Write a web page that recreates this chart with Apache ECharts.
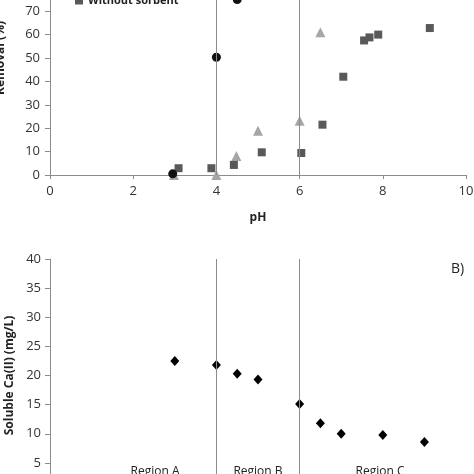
<!DOCTYPE html>
<html>
<head>
<meta charset="utf-8">
<script src="https://cdn.jsdelivr.net/npm/echarts@6/dist/echarts.min.js"></script>
<style>
  html, body { margin: 0; padding: 0; background: #fff; overflow: hidden; }
  #wrap { position: relative; width: 474px; height: 474px; overflow: hidden; }
  /* the figure is cropped: draw it taller and shift up */
  #chart { position: absolute; left: 0; top: -70px; width: 474px; height: 600px; }
</style>
</head>
<body>
<div id="wrap"><div id="chart"></div></div>
<script>
// top panel: removal (%) vs pH
var circlePts = [[2.95, 0.5], [4.0, 50.3], [4.5, 75]];
var trianglePts = [[2.98, 0], [4.0, 0], [4.48, 8.1], [5.0, 18.9], [6.0, 23.2], [6.5, 61]];
var squarePts = [[3.09, 2.9], [3.88, 2.9], [4.42, 4.3], [5.09, 9.7], [6.04, 9.4], [6.55, 21.5],
                 [7.05, 42], [7.55, 57.5], [7.68, 58.8], [7.89, 60], [9.13, 62.8]];
// bottom panel: soluble Ca(II) vs pH
var diamondPts = [[3.0, 22.5], [4.0, 21.8], [4.5, 20.3], [5.0, 19.3], [6.0, 15.1],
                  [6.5, 11.8], [7.0, 10.0], [8.0, 9.8], [9.0, 8.6]];
// region boundaries (pH)
var boundaries = [4, 6];
var regionNames = ['Region A', 'Region B', 'Region C'];

var chart = echarts.init(document.getElementById('chart'));

var axisGray = '#8c8c8c';
var txt = '#333';
var font = 'Open Sans';
var dy = 70; // vertical shift of the drawing

var vLines = {
    silent: true,
    symbol: 'none',
    label: { show: false },
    lineStyle: { color: axisGray, width: 1, type: 'solid' },
    data: boundaries.map(function (b) { return { xAxis: b }; })
};

var option = {
    animation: false,
    textStyle: { fontFamily: font },
    legend: {
        data: ['Without sorbent'],
        left: 70,
        top: dy - 10,
        itemWidth: 8,
        itemHeight: 8,
        itemGap: 6,
        textStyle: { color: '#222', fontSize: 11, fontWeight: 'bold', fontFamily: font }
    },
    grid: [
        { left: 50, right: 8, top: dy - 59, bottom: 600 - 175 - dy, containLabel: false, outerBoundsMode: 'none' },
        { left: 50, right: 8, top: dy + 259, bottom: 600 - 492 - dy, containLabel: false, outerBoundsMode: 'none' }
    ],
    xAxis: [{
        gridIndex: 0,
        type: 'value',
        min: 0, max: 10, interval: 2,
        name: 'pH',
        nameLocation: 'middle',
        nameGap: 37,
        nameTextStyle: { color: '#222', fontSize: 12, fontWeight: 'bold' },
        axisLine: { lineStyle: { color: axisGray } },
        axisTick: { length: 4, lineStyle: { color: axisGray } },
        axisLabel: { color: txt, fontSize: 13, margin: 10 },
        splitLine: { show: false }
    }, {
        gridIndex: 1,
        type: 'value',
        min: 0, max: 10, interval: 2,
        axisLine: { lineStyle: { color: axisGray } },
        axisTick: { show: false },
        axisLabel: { show: false },
        splitLine: { show: false }
    }],
    yAxis: [{
        gridIndex: 0,
        type: 'value',
        min: 0, max: 100, interval: 10,
        name: 'Removal (%)',
        nameLocation: 'middle',
        nameGap: 33,
        nameTextStyle: { color: '#222', fontSize: 12, fontWeight: 'bold' },
        axisLine: { show: true, lineStyle: { color: axisGray } },
        axisTick: { show: true, length: 5, lineStyle: { color: axisGray } },
        axisLabel: { color: txt, fontSize: 13, margin: 10 },
        splitLine: { show: false }
    }, {
        gridIndex: 1,
        type: 'value',
        min: 0, max: 40, interval: 5,
        name: 'Soluble Ca(II) (mg/L)',
        nameLocation: 'middle',
        nameGap: 33,
        nameTextStyle: { color: '#222', fontSize: 12, fontWeight: 'bold' },
        axisLine: { show: true, lineStyle: { color: axisGray } },
        axisTick: { show: true, length: 5, lineStyle: { color: axisGray } },
        axisLabel: { color: txt, fontSize: 13, margin: 9 },
        splitLine: { show: false }
    }],
    graphic: [
        { type: 'text', left: 451, top: dy + 262, style: { text: 'B)', fill: '#222', font: '14px "Open Sans"' } },
        { type: 'text', x: 155, y: dy + 466, style: { text: regionNames[0], fill: '#222', font: '12px "Open Sans"', textAlign: 'center' } },
        { type: 'text', x: 258, y: dy + 466, style: { text: regionNames[1], fill: '#222', font: '12px "Open Sans"', textAlign: 'center' } },
        { type: 'text', x: 380, y: dy + 466, style: { text: regionNames[2], fill: '#222', font: '12px "Open Sans"', textAlign: 'center' } }
    ],
    series: [{
        name: 'Without sorbent',
        type: 'scatter',
        xAxisIndex: 0, yAxisIndex: 0,
        symbol: 'rect',
        symbolSize: 8,
        itemStyle: { color: '#595959', opacity: 1 },
        data: squarePts,
        markLine: vLines,
        z: 3
    }, {
        name: 'Series 2',
        type: 'scatter',
        xAxisIndex: 0, yAxisIndex: 0,
        symbol: 'triangle',
        symbolSize: 10,
        itemStyle: { color: '#a6a6a6', opacity: 1 },
        data: trianglePts,
        z: 2
    }, {
        name: 'Series 1',
        type: 'scatter',
        xAxisIndex: 0, yAxisIndex: 0,
        symbol: 'circle',
        symbolSize: 9,
        itemStyle: { color: '#111', opacity: 1 },
        data: circlePts,
        z: 4
    }, {
        name: 'Soluble Ca(II)',
        type: 'scatter',
        xAxisIndex: 1, yAxisIndex: 1,
        symbol: 'diamond',
        symbolSize: [9, 10],
        itemStyle: { color: '#000', opacity: 1 },
        data: diamondPts,
        markLine: vLines
    }]
};

chart.setOption(option);
</script>
</body>
</html>
